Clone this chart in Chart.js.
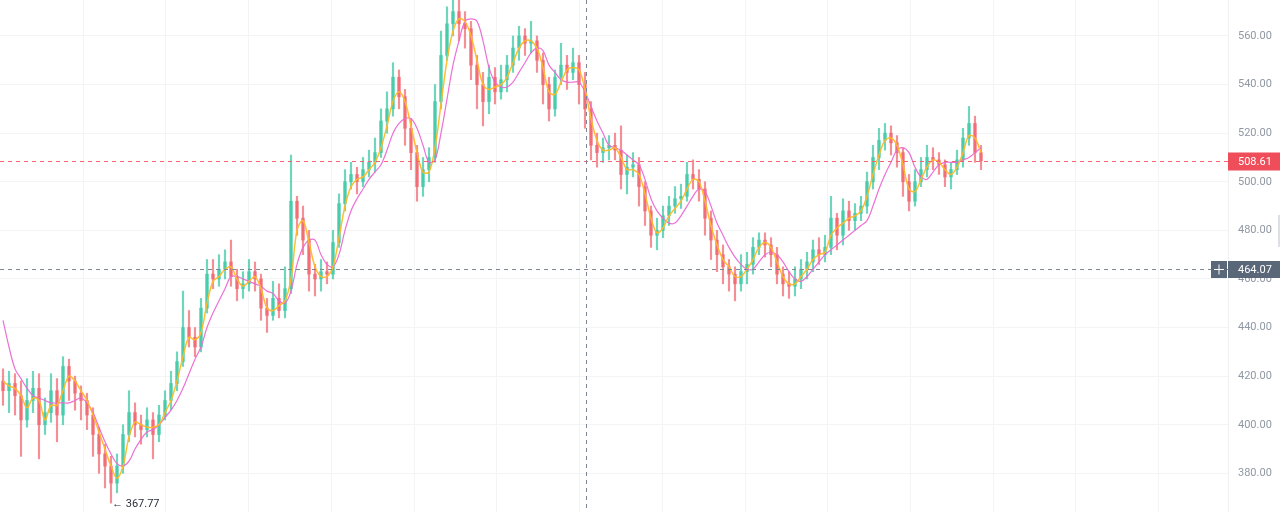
<!DOCTYPE html>
<html lang="en">
<head>
    <meta charset="UTF-8">
    <title>Price chart</title>
    <script src="https://cdn.jsdelivr.net/npm/chart.js"></script>
    <style>
        html, body { margin: 0; padding: 0; background: #ffffff; }
        #wrap { width: 1280px; height: 512px; position: relative; }
    </style>
</head>
<body>
<div id="wrap"><canvas id="priceChart"></canvas></div>
<script>
// candles (one candle per ~6px column)
const opens = [418,414,417,412,402,410,415,400,405,414,
    404,424,418,413,410,404,396,388,383,376,
    383,396,405,400,398,402,396,404,410,417,
    426,440,436,432,448,462,460,464,467,461,
    456,458,463,460,448,445,452,447,456,492,
    485,476,462,460,463,462,475,491,500,503,
    500,505,508,512,525,530,543,535,522,512,
    498,505,510,533,552,565,570,565,563,548,
    540,533,543,537,542,548,555,560,557,558,
    550,540,530,543,548,545,549,540,530,515,
    512,514,515,513,503,506,507,498,488,478,
    480,486,490,493,494,503,501,497,485,476,
    470,465,462,458,463,466,473,476,474,470,
    462,458,457,460,464,467,472,470,473,485,
    478,488,484,487,490,500,510,517,520,516,
    512,500,492,500,505,510,509,507,502,505,
    509,518,524,512];
const highs = [423,422,421,418,419,422,421,411,421,419,
    428,427,420,416,413,407,399,392,387,388,
    400,414,409,404,407,405,408,414,422,430,
    455,447,440,452,468,468,470,472,476,464,
    463,468,467,462,452,459,458,465,511,494,
    490,480,466,468,467,480,495,505,508,506,
    510,513,518,530,537,549,546,538,526,515,
    510,514,540,562,572,575,575,570,566,552,
    545,548,547,548,552,560,564,563,566,560,
    553,543,546,557,552,555,552,545,533,520,
    518,519,520,523,511,512,510,500,490,485,
    490,494,498,499,508,509,505,500,488,480,
    474,468,465,470,471,477,479,479,477,473,
    465,463,465,468,471,476,477,478,494,487,
    493,492,491,494,504,515,522,524,523,519,
    514,503,505,510,515,514,512,509,508,513,
    522,531,527,515];
const lows = [408,405,404,387,399,405,386,396,401,393,
    400,410,406,402,398,387,380,374,367.77,372,
    380,393,395,392,395,386,393,402,406,414,
    424,432,428,430,446,456,457,460,457,451,
    452,455,455,443,438,443,444,444,454,478,
    470,455,453,455,458,460,473,488,497,495,
    498,502,504,510,520,527,530,515,505,492,
    494,500,508,530,550,560,558,555,542,530,
    523,528,532,534,537,545,550,552,553,545,
    532,525,527,540,538,542,532,522,509,506,
    508,509,509,497,495,502,490,482,473,472,
    477,482,487,489,492,497,492,478,468,463,
    458,455,451,455,458,462,470,469,465,458,
    453,452,453,456,460,463,466,467,470,472,
    474,480,480,484,487,497,505,513,511,506,
    494,488,490,498,502,505,503,498,497,503,
    506,515,508,505];
const closes = [414,417,412,402,410,415,400,405,414,404,
    424,418,413,410,404,396,388,383,376,383,
    396,405,400,398,402,396,404,410,417,426,
    440,436,432,448,462,460,464,467,461,456,
    458,463,460,448,445,452,447,456,492,485,
    476,462,460,463,462,475,491,500,503,500,
    505,508,512,525,530,543,535,522,512,498,
    505,510,533,552,565,570,565,563,548,540,
    533,543,537,542,548,555,560,557,558,550,
    540,530,543,548,545,549,540,530,515,512,
    514,515,513,503,506,507,498,488,478,480,
    486,490,493,494,503,501,497,485,476,470,
    465,462,458,463,466,473,476,474,470,462,
    458,457,460,464,467,472,470,473,485,478,
    488,484,487,490,500,510,517,520,516,512,
    500,492,500,505,510,509,507,502,505,509,
    518,524,512,508.61];

// fast average (orange) and slow average (pink)
const maFast = [418,416,415,412,407,411,410,402,408,408,
    414,420,418,414,410,404,397,390,383,378,
    383,395,401,400,399,399,400,405,410,418,
    428,436,435,438,450,459,461,464,465,460,
    457,459,461,456,448,447,449,451,460,480,
    484,475,465,461,461,465,477,490,498,501,
    502,505,508,514,523,533,537,533,523,512,
    504,504,514,532,550,562,567,566,560,550,
    540,538,539,540,543,549,555,558,558,555,
    547,537,536,541,546,547,546,538,526,517,
    513,513,514,510,505,505,503,495,485,479,
    481,486,489,492,497,501,500,492,482,474,
    468,465,461,461,464,468,473,475,473,467,
    461,458,458,461,464,468,470,471,478,481,
    483,485,486,488,494,503,511,517,518,515,
    507,497,496,501,506,509,508,505,503,506,
    512,519,518,512];
const maSlow = [443,432,423,419,415,412,411,410,409,409,
    409,409,410,411,409,405,399,393,388,384,
    383,385,390,394,397,398,400,403,406,410,
    415,421,427,432,440,446,451,456,461,461,
    460,459,458,457,455,454,451,450,455,466,
    473,476,476,470,466,465,470,480,488,493,
    497,501,504,507,513,520,524,526,526,522,
    515,508,509,520,534,548,558,566,567,566,
    558,547,541,539,539,541,545,549,553,555,
    554,548,545,542,541,541,541,537,531,525,
    520,515,514,513,511,509,507,501,493,488,
    485,483,483,486,490,494,497,496,490,483,
    478,473,469,466,464,464,467,470,471,470,
    467,463,460,459,461,464,467,470,472,474,
    476,478,480,482,484,490,497,503,508,513,
    514,512,506,502,501,504,507,508,508,508,
    509,510,512,514];

const yTicks = [380, 400, 420, 440, 460, 480, 500, 520, 540, 560];
const lastPrice = 508.61;
const crossPrice = 464.07;
const crossIndex = 97.2;
const lowIndex = 18;

const upColor = 'rgba(60, 200, 165, 0.75)';
const downColor = 'rgba(240, 95, 105, 0.7)';
const candleColors = closes.map((c, i) => c >= opens[i] ? upColor : downColor);

const wickData = highs.map((h, i) => ({ x: i, y: [lows[i], h] }));
const bodyData = closes.map((c, i) => ({ x: i, y: [opens[i], c] }));

const noPad = s => { s.paddingTop = 0; s.paddingBottom = 0; s.paddingLeft = 0; s.paddingRight = 0; };

const overlay = {
    id: 'overlay',
    afterDatasetsDraw(chart) {
        const { ctx, chartArea, scales } = chart;
        const y = scales.y, x = scales.x;
        ctx.save();
        ctx.lineWidth = 1;
        ctx.setLineDash([4, 4]);

        const yl = Math.round(y.getPixelForValue(lastPrice)) + 0.5;
        ctx.strokeStyle = '#f06570';
        ctx.beginPath(); ctx.moveTo(chartArea.left, yl); ctx.lineTo(chartArea.right, yl); ctx.stroke();

        const yc = Math.round(y.getPixelForValue(crossPrice)) + 0.5;
        const xc = Math.round(x.getPixelForValue(crossIndex)) + 0.5;
        ctx.strokeStyle = '#7d8794';
        ctx.beginPath(); ctx.moveTo(chartArea.left, yc); ctx.lineTo(chartArea.right, yc); ctx.stroke();
        ctx.beginPath(); ctx.moveTo(xc, chartArea.top); ctx.lineTo(xc, chartArea.bottom); ctx.stroke();
        ctx.setLineDash([]);

        // price labels on the axis
        const r = chartArea.right;
        ctx.font = '11px Roboto, "Noto Sans", sans-serif';
        ctx.textBaseline = 'middle';
        ctx.textAlign = 'left';
        ctx.fillStyle = '#ef4d5a';
        ctx.fillRect(r, yl - 9, 52, 18);
        ctx.fillStyle = '#ffffff';
        ctx.fillText(lastPrice.toFixed(2), r + 10, yl + 0.5);

        ctx.fillStyle = '#596779';
        ctx.fillRect(r, yc - 8.5, 52, 17);
        ctx.fillRect(r - 17, yc - 8.5, 16, 17);
        ctx.fillStyle = '#ffffff';
        ctx.fillText(crossPrice.toFixed(2), r + 10, yc + 0.5);
        ctx.strokeStyle = '#ffffff';
        ctx.beginPath();
        ctx.moveTo(r - 14, yc); ctx.lineTo(r - 4, yc);
        ctx.moveTo(r - 9, yc - 5); ctx.lineTo(r - 9, yc + 5);
        ctx.stroke();

        // lowest low marker
        const xm = x.getPixelForValue(lowIndex);
        const ym = y.getPixelForValue(lows[lowIndex]);
        ctx.fillStyle = '#2a2e39';
        ctx.fillText('\u2190 ' + lows[lowIndex].toFixed(2), xm + 1, ym + 1);

        // scrollbar stub
        ctx.fillStyle = '#dcdfe3';
        ctx.fillRect(1278, 215, 2, 32);
        ctx.restore();
    }
};

new Chart(document.getElementById('priceChart'), {
    type: 'bar',
    data: {
        datasets: [
            { type: 'line', data: maFast.map((v, i) => ({ x: i, y: v })), borderColor: 'rgba(255, 185, 40, 0.95)',
              borderWidth: 1.5, pointRadius: 0, tension: 0.35, order: 0 },
            { type: 'line', data: maSlow.map((v, i) => ({ x: i, y: v })), borderColor: 'rgba(235, 105, 210, 0.95)',
              borderWidth: 1.2, pointRadius: 0, tension: 0.35, order: 0 },
            { data: bodyData, backgroundColor: candleColors, barThickness: 3, minBarLength: 1, grouped: false, order: 1 },
            { data: wickData, backgroundColor: candleColors, barThickness: 1.5, grouped: false, order: 2 }
        ]
    },
    options: {
        responsive: true,
        maintainAspectRatio: false,
        animation: false,
        layout: { padding: 0 },
        plugins: { legend: { display: false }, tooltip: { enabled: false } },
        scales: {
            x: {
                type: 'linear', min: -0.5, max: 204.17, offset: false,
                afterBuildTicks: s => {
                    const t = [];
                    for (let v = 13.35; v < 204; v += 13.79) t.push({ value: v });
                    s.ticks = t;
                },
                afterFit: s => { s.height = 0; noPad(s); },
                grid: { color: '#f3f4f6', drawTicks: false, offset: false },
                border: { display: false },
                ticks: { display: false }
            },
            y: {
                position: 'right', min: 364.1, max: 574.8,
                afterBuildTicks: s => { s.ticks = yTicks.map(v => ({ value: v })); },
                afterFit: s => { s.width = 52; noPad(s); },
                grid: { color: '#f3f4f6', drawTicks: false },
                border: { display: true, color: '#eef0f2' },
                ticks: {
                    padding: 10, color: '#8f98a3',
                    font: { family: 'Roboto, "Noto Sans", sans-serif', size: 11 },
                    callback: v => Number(v).toFixed(2)
                }
            }
        }
    },
    plugins: [overlay]
});
</script>
</body>
</html>
